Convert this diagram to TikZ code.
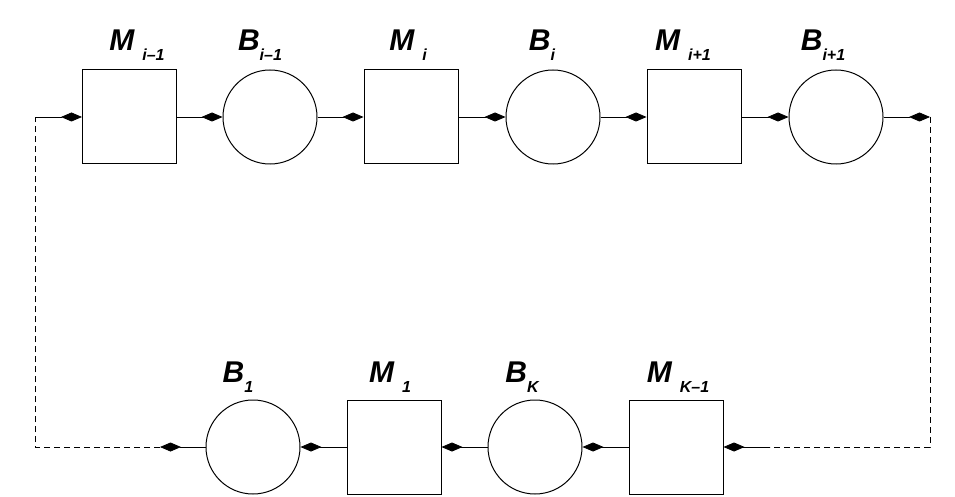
\documentclass[tikz,border=0pt]{standalone}
\usepackage{fontspec}
\setmainfont{Liberation Sans}
\usetikzlibrary{arrows.meta}
\newcommand{\sbx}[1]{\raisebox{-10pt}{\fontsize{16}{16}\selectfont #1}}
\begin{document}
\begin{tikzpicture}[x=1pt,y=-1pt,
  box/.style={draw,line width=1pt,minimum size=94pt,inner sep=0pt},
  buf/.style={draw,line width=1pt,circle,minimum size=94pt,inner sep=0pt},
  conn/.style={line width=0.8pt,-{Kite[length=21pt,width=9pt,inset=10.5pt]}},
  dsh/.style={line width=0.8pt,dash pattern=on 6pt off 4pt},
  lab/.style={font=\bfseries\itshape\fontsize{30}{30}\selectfont,inner sep=0pt}]
\useasboundingbox (0,0) rectangle (955,497);
\node[box] (m1t) at (129.5,117) {};
\node[buf] (bim1) at (270,117) {};
\node[box] (mi) at (411,117) {};
\node[buf] (bi) at (553,117) {};
\node[box] (mip1) at (694,117) {};
\node[buf] (bip1) at (836,117) {};
\coordinate (tl) at (35,117);
\coordinate (tr) at (930,117);
\node[box] (mk1) at (676,447) {};
\node[buf] (bk) at (535,447) {};
\node[box] (m1) at (394,447) {};
\node[buf] (b1) at (253,447) {};
\coordinate (bl) at (35,447);
\coordinate (blt) at (160,447);
\coordinate (brs) at (770,447);
\coordinate (br) at (930,447);
% labels
\node[lab] (l1) at (137,45) {M\hspace{8pt}\sbx{i--1}};
\node[lab] (l2) at (260,45) {B\sbx{i--1}};
\node[lab] (l3) at (408,45) {M\hspace{8pt}\sbx{i}};
\node[lab] (l4) at (542,45) {B\sbx{i}};
\node[lab] (l5) at (683,45) {M\hspace{8pt}\sbx{i+1}};
\node[lab] (l6) at (823,45) {B\sbx{i+1}};
\node[lab] (l7) at (238,377) {B\sbx{1}};
\node[lab] (l8) at (390,377) {M\hspace{8pt}\sbx{1}};
\node[lab] (l9) at (522,377) {B\sbx{K}};
\node[lab] (l10) at (678,377) {M\hspace{8pt}\sbx{K--1}};
% connectors
\draw[conn] (tl) -- (m1t);
\draw[conn] (m1t) -- (bim1);
\draw[conn] (bim1) -- (mi);
\draw[conn] (mi) -- (bi);
\draw[conn] (bi) -- (mip1);
\draw[conn] (mip1) -- (bip1);
\draw[conn] (bip1) -- (tr);
\draw[dsh] (tr) -- (br) -- (brs);
\draw[conn] (brs) -- (mk1);
\draw[conn] (mk1) -- (bk);
\draw[conn] (bk) -- (m1);
\draw[conn] (m1) -- (b1);
\draw[conn] (b1) -- (blt);
\draw[dsh] (blt) -- (bl) -- (tl);
\end{tikzpicture}
\end{document}
